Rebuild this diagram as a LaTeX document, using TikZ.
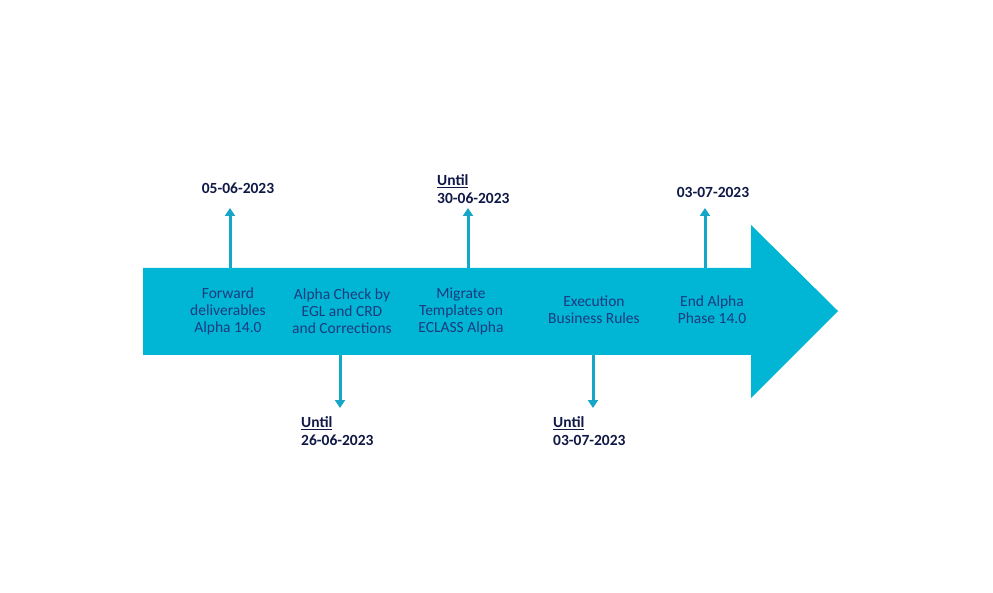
\documentclass[tikz,border=0pt]{standalone}
\usepackage{fontspec}
\setmainfont{Carlito}
\usetikzlibrary{arrows.meta}
\definecolor{arrowcyan}{RGB}{0,182,212}
\definecolor{linecyan}{RGB}{22,166,200}
\definecolor{intext}{RGB}{28,58,128}
\definecolor{datetext}{RGB}{16,24,70}
\tikzset{
  stage/.style={font=\fontsize{15.5}{17}\selectfont, text=intext, align=center, inner sep=0pt},
  datelbl/.style={font=\bfseries\fontsize{15.5}{18}\selectfont, text=datetext, align=left, inner sep=0pt},
  tick/.style={draw=linecyan, line width=3pt, -{Triangle[width=10pt,length=8pt]}},
}
\begin{document}
\begin{tikzpicture}[x=1pt,y=-1pt]
\useasboundingbox (0,0) rectangle (993,593);
% big arrow
\fill[arrowcyan] (143,268) -- (751,268) -- (751,225) -- (838,311) -- (751,398) -- (751,355) -- (143,355) -- cycle;
% anchor coordinates on arrow edges
\coordinate (u1) at (230,268);
\coordinate (u2) at (468,268);
\coordinate (u3) at (705,268);
\coordinate (d1) at (340,355);
\coordinate (d2) at (593,355);
\coordinate (ut1) at (230,208);
\coordinate (ut2) at (468,208);
\coordinate (ut3) at (705,208);
\coordinate (dt1) at (340,408);
\coordinate (dt2) at (593,408);
\draw[tick] (u1) -- (ut1);
\draw[tick] (u2) -- (ut2);
\draw[tick] (u3) -- (ut3);
\draw[tick] (d1) -- (dt1);
\draw[tick] (d2) -- (dt2);
% stage texts
\node[stage] (s1) at (228,311) {Forward\\deliverables\\Alpha 14.0};
\node[stage] (s2) at (342,311) {Alpha Check by\\EGL and CRD\\and Corrections};
\node[stage] (s3) at (461,311) {Migrate\\Templates on\\ECLASS Alpha};
\node[stage] (s4) at (594,310) {Execution\\Business Rules};
\node[stage] (s5) at (712,310) {End Alpha\\Phase 14.0};
% dates
\node[datelbl, anchor=center] (t1) at (238,188) {05-06-2023};
\node[datelbl, anchor=west] (t2) at (437,189) {\underline{Until}\\30-06-2023};
\node[datelbl, anchor=center] (t3) at (713,192) {03-07-2023};
\node[datelbl, anchor=west] (b1) at (301,431) {\underline{Until}\\26-06-2023};
\node[datelbl, anchor=west] (b2) at (553,431) {\underline{Until}\\03-07-2023};
\end{tikzpicture}
\end{document}
